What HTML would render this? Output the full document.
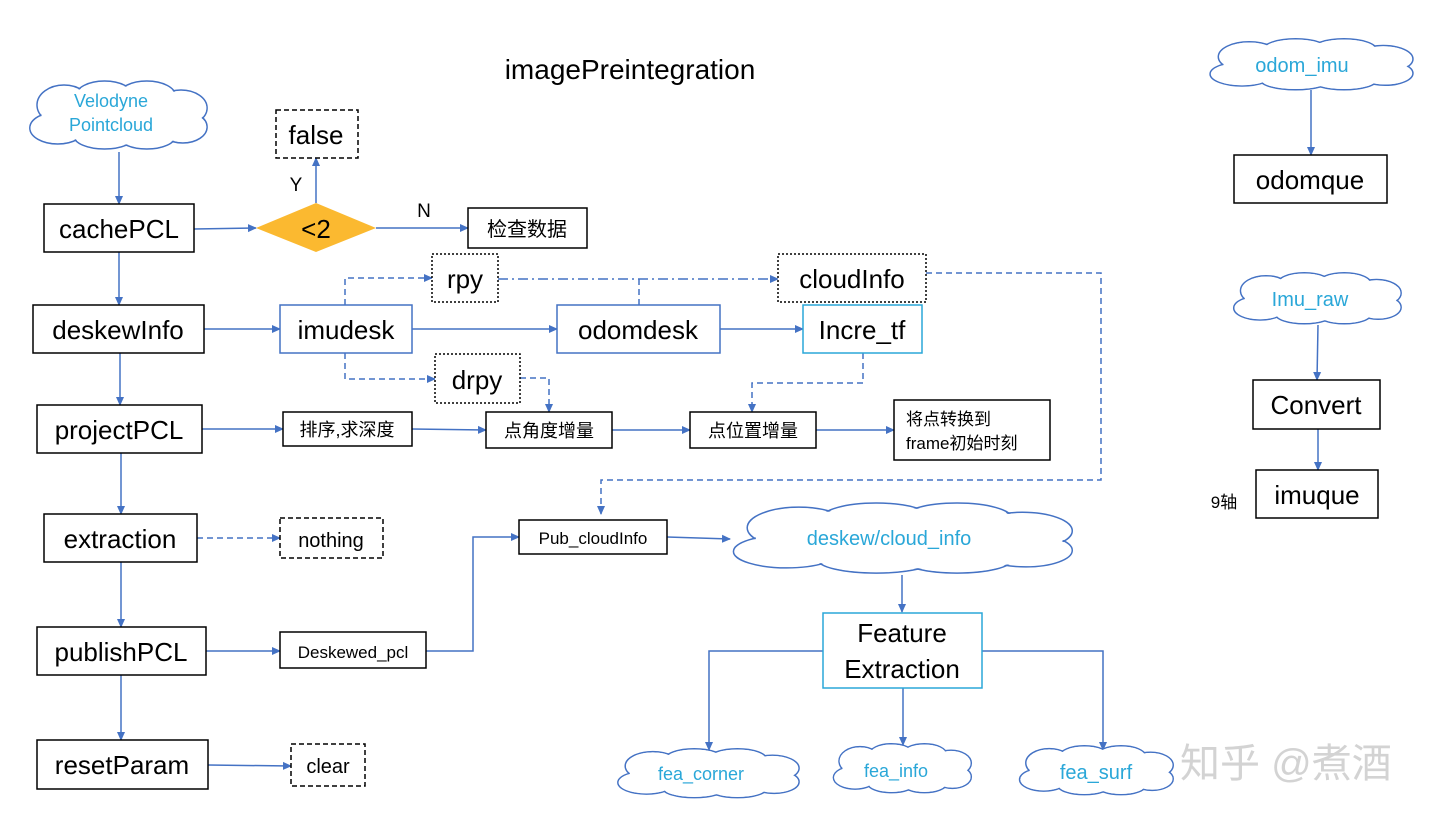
<!DOCTYPE html>
<html><head><meta charset="utf-8"><style>
body{margin:0;background:#fff}
svg text{font-family:"Liberation Sans","Noto Sans CJK SC",sans-serif}
</style></head><body>
<svg width="1440" height="820" viewBox="0 0 1440 820" xmlns="http://www.w3.org/2000/svg">
<defs>
<marker id="a" markerWidth="10" markerHeight="10" refX="8" refY="5" orient="auto" markerUnits="userSpaceOnUse"><path d="M0,1 L9,5 L0,9 z" fill="#4472c4"/></marker>
<g id="cloud">
<g fill="none" stroke="#4472c4" stroke-width="1.5" vector-effect="non-scaling-stroke">
<ellipse cx="40" cy="25" rx="30" ry="20" vector-effect="non-scaling-stroke"/>
<ellipse cx="85" cy="16" rx="32" ry="15" vector-effect="non-scaling-stroke"/>
<ellipse cx="132" cy="16" rx="32" ry="15" vector-effect="non-scaling-stroke"/>
<ellipse cx="170" cy="28" rx="29" ry="18" vector-effect="non-scaling-stroke"/>
<ellipse cx="172" cy="47" rx="27" ry="16" vector-effect="non-scaling-stroke"/>
<ellipse cx="132" cy="56" rx="32" ry="13" vector-effect="non-scaling-stroke"/>
<ellipse cx="85" cy="56" rx="34" ry="13" vector-effect="non-scaling-stroke"/>
<ellipse cx="33" cy="48" rx="31" ry="16" vector-effect="non-scaling-stroke"/>
</g>
<g fill="#fff">
<ellipse cx="40" cy="25" rx="29" ry="19"/><ellipse cx="85" cy="16" rx="31" ry="14"/>
<ellipse cx="132" cy="16" rx="31" ry="14"/><ellipse cx="170" cy="28" rx="28" ry="17"/>
<ellipse cx="172" cy="47" rx="26" ry="15"/><ellipse cx="132" cy="56" rx="31" ry="12"/>
<ellipse cx="85" cy="56" rx="33" ry="12"/><ellipse cx="33" cy="48" rx="30" ry="15"/>
<ellipse cx="100" cy="36" rx="85" ry="24"/>
</g></g>
</defs>

<g stroke="#4472c4" stroke-width="1.5" fill="none">
<!-- left column -->
<path d="M119,152 V204" marker-end="url(#a)"/>
<path d="M119,252 V305" marker-end="url(#a)"/>
<path d="M120,353 V405" marker-end="url(#a)"/>
<path d="M121,453 V514" marker-end="url(#a)"/>
<path d="M121,562 V627" marker-end="url(#a)"/>
<path d="M121,675 V740" marker-end="url(#a)"/>
<path d="M194,229 L256,228" marker-end="url(#a)"/>
<path d="M316,203 V158" marker-end="url(#a)"/>
<path d="M376,228 H468" marker-end="url(#a)"/>
<path d="M204,329 H280" marker-end="url(#a)"/>
<path d="M412,329 H557" marker-end="url(#a)"/>
<path d="M720,329 H803" marker-end="url(#a)"/>
<path d="M202,429 H283" marker-end="url(#a)"/>
<path d="M412,429 L486,430" marker-end="url(#a)"/>
<path d="M612,430 H690" marker-end="url(#a)"/>
<path d="M816,430 H894" marker-end="url(#a)"/>
<path d="M206,651 H280" marker-end="url(#a)"/>
<path d="M426,651 H473 V537 H519" marker-end="url(#a)"/>
<path d="M208,765 L291,766" marker-end="url(#a)"/>
<path d="M667,537 L730,539" marker-end="url(#a)"/>
<path d="M902,575 V612" marker-end="url(#a)"/>
<path d="M823,651 H709 V750" marker-end="url(#a)"/>
<path d="M903,688 V745" marker-end="url(#a)"/>
<path d="M982,651 H1103 V750" marker-end="url(#a)"/>
<path d="M1311,90 V155" marker-end="url(#a)"/>
<path d="M1318,325 L1317,380" marker-end="url(#a)"/>
<path d="M1318,429 V470" marker-end="url(#a)"/>
</g>
<g stroke="#4472c4" stroke-width="1.5" fill="none" stroke-dasharray="6,4">
<path d="M345,305 V278 H432" marker-end="url(#a)"/>
<path d="M345,353 V379 H435" marker-end="url(#a)"/>
<path d="M520,378 H549 V412" marker-end="url(#a)"/>
<path d="M863,353 V383 H752 V412" marker-end="url(#a)"/>
<path d="M639,305 V279"/>
<path d="M926,273 H1101 V480 H601 V514" marker-end="url(#a)"/>
<path d="M197,538 H280" marker-end="url(#a)"/>
<path d="M498,279 H778" stroke-dasharray="10,4,2,4" marker-end="url(#a)"/>
</g>

<!-- boxes -->
<g fill="#fff" stroke="#000" stroke-width="1.5">
<rect x="44" y="204" width="150" height="48"/>
<rect x="33" y="305" width="171" height="48"/>
<rect x="37" y="405" width="165" height="48"/>
<rect x="44" y="514" width="153" height="48"/>
<rect x="37" y="627" width="169" height="48"/>
<rect x="37" y="740" width="171" height="49"/>
<rect x="468" y="208" width="119" height="40"/>
<rect x="283" y="412" width="129" height="34"/>
<rect x="486" y="412" width="126" height="36"/>
<rect x="690" y="412" width="126" height="36"/>
<rect x="894" y="400" width="156" height="60"/>
<rect x="519" y="520" width="148" height="34"/>
<rect x="280" y="632" width="146" height="36"/>
<rect x="1234" y="155" width="153" height="48"/>
<rect x="1253" y="380" width="127" height="49"/>
<rect x="1256" y="470" width="122" height="48"/>
</g>
<g fill="#fff" stroke="#000" stroke-width="1.5" stroke-dasharray="5,3">
<rect x="276" y="110" width="82" height="48"/>
<rect x="280" y="518" width="103" height="40"/>
<rect x="291" y="744" width="74" height="42"/>
</g>
<g fill="#fff" stroke="#000" stroke-width="1.5" stroke-dasharray="2,2">
<rect x="432" y="254" width="66" height="48"/>
<rect x="778" y="254" width="148" height="48"/>
<rect x="435" y="354" width="85" height="49"/>
</g>
<rect x="280" y="305" width="132" height="48" fill="#fff" stroke="#4472c4" stroke-width="1.5"/>
<rect x="557" y="305" width="163" height="48" fill="#fff" stroke="#4472c4" stroke-width="1.5"/>
<rect x="803" y="305" width="119" height="48" fill="#fff" stroke="#2aa7d8" stroke-width="1.5"/>
<rect x="823" y="613" width="159" height="75" fill="#fff" stroke="#2aa7d8" stroke-width="1.5"/>
<path d="M256,228 L316,203 L376,228 L316,252 z" fill="#fbb930"/>

<!-- clouds -->
<use href="#cloud" transform="translate(28,80) scale(0.9,1)"/>
<use href="#cloud" transform="translate(730,502) scale(1.72,1.03)"/>
<use href="#cloud" transform="translate(616,748) scale(0.92,0.72)"/>
<use href="#cloud" transform="translate(832,743) scale(0.7,0.72)"/>
<use href="#cloud" transform="translate(1018,745) scale(0.78,0.72)"/>
<use href="#cloud" transform="translate(1208,38) scale(1.03,0.75)"/>
<use href="#cloud" transform="translate(1232,272) scale(0.85,0.75)"/>

<!-- text -->
<g font-size="26" text-anchor="middle" fill="#000">
<text x="630" y="79" font-size="28">imagePreintegration</text>
<text x="119" y="238">cachePCL</text>
<text x="118" y="339">deskewInfo</text>
<text x="119" y="439">projectPCL</text>
<text x="120" y="548">extraction</text>
<text x="121" y="661">publishPCL</text>
<text x="122" y="774">resetParam</text>
<text x="316" y="144">false</text>
<text x="316" y="238">&lt;2</text>
<text x="296" y="191" font-size="19">Y</text>
<text x="424" y="217" font-size="19">N</text>
<text x="527" y="236" font-size="20">检查数据</text>
<text x="465" y="288">rpy</text>
<text x="852" y="288">cloudInfo</text>
<text x="477" y="389">drpy</text>
<text x="346" y="339">imudesk</text>
<text x="638" y="339">odomdesk</text>
<text x="862" y="339">Incre_tf</text>
<text x="347" y="436" font-size="18">排序,求深度</text>
<text x="549" y="437" font-size="18">点角度增量</text>
<text x="753" y="437" font-size="18">点位置增量</text>
<text x="906" y="425" font-size="17" text-anchor="start">将点转换到</text>
<text x="906" y="449" font-size="17" text-anchor="start">frame初始时刻</text>
<text x="331" y="547" font-size="20">nothing</text>
<text x="593" y="544" font-size="17">Pub_cloudInfo</text>
<text x="353" y="658" font-size="17">Deskewed_pcl</text>
<text x="328" y="773" font-size="20">clear</text>
<text x="902" y="642">Feature</text>
<text x="902" y="678">Extraction</text>
<text x="1310" y="189">odomque</text>
<text x="1316" y="414">Convert</text>
<text x="1317" y="504">imuque</text>
<text x="1224" y="508" font-size="17">9轴</text>
</g>
<g font-size="18" text-anchor="middle" fill="#2aa7d8">
<text x="111" y="107">Velodyne</text>
<text x="111" y="131">Pointcloud</text>
<text x="889" y="545" font-size="20">deskew/cloud_info</text>
<text x="701" y="780">fea_corner</text>
<text x="896" y="777">fea_info</text>
<text x="1096" y="779" font-size="20">fea_surf</text>
<text x="1302" y="72" font-size="20">odom_imu</text>
<text x="1310" y="306" font-size="20">Imu_raw</text>
</g>
<text x="1180" y="777" font-size="40" fill="#c8c8c8" fill-opacity="0.8">知乎 @煮酒</text>
</svg>
</body></html>
